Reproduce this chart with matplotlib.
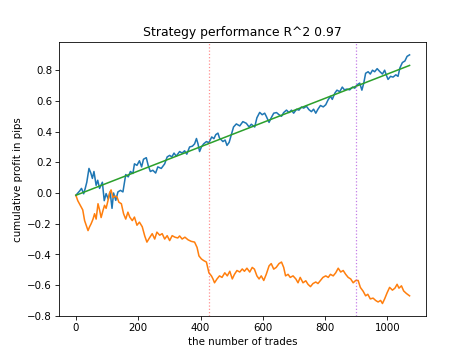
import numpy as np
import matplotlib
matplotlib.use('Agg')
import matplotlib.pyplot as plt

# cumulative profit of the strategy (blue)
strat_x = [0, 12, 18, 25, 30, 35, 42, 48, 53, 58, 65, 70, 76, 85, 91, 97, 104, 110, 116, 121,
           128, 135, 143, 151, 160, 168, 175, 183, 188, 196, 204, 211, 217, 226, 232, 239, 247,
           256, 263, 274, 285, 293, 301, 308, 315, 322, 333, 341, 349, 356, 365, 374, 381, 387,
           392, 397, 403, 410, 419, 427, 436, 443, 449, 456, 461, 467, 472, 479, 485, 492, 499,
           506, 515, 526, 536, 547, 556, 563, 574, 581, 590, 598, 606, 611, 620, 627, 635, 644,
           652, 660, 667, 676, 684, 692, 699, 708, 716, 724, 731, 740, 748, 756, 763, 770, 777,
           785, 794, 802, 809, 817, 823, 831, 838, 847, 855, 862, 870, 879, 888, 895, 903, 911,
           918, 924, 930, 938, 945, 952, 959, 967, 976, 984, 991, 997, 1002, 1010, 1018, 1027,
           1034, 1040, 1048, 1056, 1063, 1071]
strat_y = [-0.015, 0.013, 0.03, -0.005, 0.03, 0.07, 0.16, 0.13, 0.095, 0.14, 0.05, 0.083, 0.03,
           0.07, -0.05, -0.004, -0.04, 0.007, -0.10, 0.0, -0.048, 0.007, 0.017, 0.007, 0.12,
           0.105, 0.14, 0.127, 0.19, 0.18, 0.21, 0.17, 0.22, 0.23, 0.18, 0.14, 0.148, 0.13, 0.17,
           0.16, 0.19, 0.235, 0.245, 0.235, 0.26, 0.24, 0.27, 0.26, 0.275, 0.253, 0.30, 0.305,
           0.32, 0.355, 0.32, 0.27, 0.30, 0.32, 0.335, 0.328, 0.365, 0.354, 0.38, 0.39, 0.358,
           0.345, 0.335, 0.345, 0.31, 0.33, 0.38, 0.43, 0.45, 0.437, 0.465, 0.454, 0.43, 0.448,
           0.43, 0.49, 0.525, 0.51, 0.52, 0.50, 0.46, 0.49, 0.52, 0.524, 0.51, 0.50, 0.524, 0.54,
           0.524, 0.54, 0.52, 0.545, 0.54, 0.56, 0.553, 0.565, 0.543, 0.53, 0.546, 0.52, 0.546,
           0.57, 0.561, 0.575, 0.605, 0.63, 0.61, 0.65, 0.67, 0.66, 0.69, 0.672, 0.677, 0.672,
           0.69, 0.683, 0.705, 0.716, 0.67, 0.716, 0.78, 0.79, 0.775, 0.80, 0.79, 0.81, 0.79,
           0.775, 0.80, 0.765, 0.74, 0.76, 0.755, 0.77, 0.76, 0.815, 0.85, 0.86, 0.89, 0.90]

# cumulative profit of the opposite side (orange)
other_x = [0, 6, 14, 22, 28, 33, 39, 44, 49, 55, 60, 65, 71, 76, 81, 87, 92, 97, 103, 108, 113,
           119, 125, 132, 138, 146, 153, 160, 167, 173, 181, 188, 196, 204, 213, 221, 228, 237,
           245, 253, 260, 269, 277, 285, 293, 301, 309, 318, 327, 333, 341, 350, 360, 370, 381,
           389, 395, 403, 410, 419, 427, 435, 440, 445, 453, 461, 469, 478, 486, 494, 502, 509,
           517, 526, 534, 541, 549, 558, 566, 573, 581, 588, 595, 603, 611, 620, 627, 635, 643,
           652, 660, 667, 673, 681, 688, 697, 706, 713, 720, 729, 738, 745, 753, 761, 770, 777,
           785, 793, 802, 810, 817, 826, 834, 842, 850, 858, 866, 874, 882, 890, 898, 906, 913,
           922, 930, 937, 945, 954, 962, 970, 978, 984, 991, 999, 1007, 1016, 1024, 1031, 1037,
           1045, 1052, 1061, 1071]
other_y = [-0.015, -0.05, -0.08, -0.11, -0.18, -0.21, -0.245, -0.22, -0.20, -0.17, -0.135,
           -0.17, -0.07, -0.11, -0.16, -0.114, -0.08, -0.10, -0.05, 0.0, 0.02, -0.03, -0.02,
           -0.026, -0.06, -0.07, -0.135, -0.17, -0.125, -0.157, -0.18, -0.157, -0.21, -0.19,
           -0.22, -0.28, -0.32, -0.29, -0.265, -0.3, -0.255, -0.275, -0.265, -0.30, -0.278,
           -0.31, -0.278, -0.288, -0.293, -0.28, -0.30, -0.288, -0.305, -0.315, -0.32, -0.355,
           -0.41, -0.43, -0.44, -0.45, -0.52, -0.54, -0.56, -0.585, -0.56, -0.54, -0.55, -0.52,
           -0.54, -0.51, -0.56, -0.53, -0.505, -0.515, -0.495, -0.51, -0.49, -0.515, -0.485,
           -0.496, -0.54, -0.56, -0.54, -0.57, -0.53, -0.475, -0.46, -0.496, -0.485, -0.46,
           -0.45, -0.485, -0.54, -0.53, -0.55, -0.54, -0.56, -0.585, -0.55, -0.585, -0.572,
           -0.595, -0.61, -0.59, -0.58, -0.59, -0.57, -0.55, -0.54, -0.55, -0.53, -0.54, -0.52,
           -0.49, -0.515, -0.505, -0.53, -0.55, -0.56, -0.585, -0.57, -0.57, -0.615, -0.64,
           -0.67, -0.66, -0.69, -0.685, -0.70, -0.71, -0.70, -0.72, -0.69, -0.65, -0.615, -0.633,
           -0.62, -0.595, -0.62, -0.605, -0.638, -0.655, -0.67]

# fitted line (intercept, slope) and the two marked trade numbers
fit_intercept = -0.015
fit_slope = 0.00079
split_1 = 426
split_2 = 900
r2 = 0.97

fig, ax = plt.subplots(figsize=(6.4, 4.8), dpi=74)
ax.plot(strat_x, strat_y, color='tab:blue')
ax.plot(other_x, other_y, color='tab:orange')
fit_x = np.array([strat_x[0], strat_x[-1]])
ax.plot(fit_x, fit_intercept + fit_slope * fit_x, color='tab:green')
ax.axvline(split_1, color='#ff4444', linestyle=':', linewidth=1.2, alpha=0.6)
ax.axvline(split_2, color='#aa44dd', linestyle=':', linewidth=1.2, alpha=0.7)
ax.set_title('Strategy performance R^2 %.2f' % r2)
ax.set_xlabel('the number of trades')
ax.set_ylabel('cumulative profit in pips')
fig.savefig('out.png')
